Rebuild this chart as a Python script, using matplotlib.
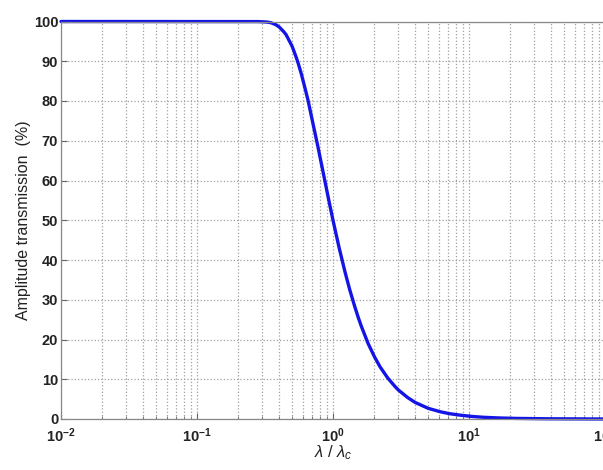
import numpy as np
import matplotlib
matplotlib.use('Agg')
import matplotlib.pyplot as plt
from matplotlib.ticker import LogLocator, NullFormatter, MultipleLocator

# values
ratio = [0.01, 0.1, 0.28, 0.32, 0.35, 0.38, 0.4, 0.43, 0.45, 0.48, 0.5, 0.53,
         0.55, 0.58, 0.6, 0.65, 0.7, 0.75, 0.8, 0.85, 0.9, 0.95, 1.0, 1.05,
         1.1, 1.2, 1.3, 1.4, 1.5, 1.6, 1.8, 2.0, 2.2, 2.5, 2.8, 3.0, 3.5, 4.0,
         4.5, 5.0, 6.0, 7.0, 8.0, 10.0, 12.0, 15.0, 20.0, 30.0, 50.0, 100.0]
transmission = [100, 100, 99.98, 99.9, 99.7, 99.2, 98.7, 97.6, 96.8, 95.0,
                93.8, 91.5, 89.9, 87.3, 85.4, 80.7, 75.6, 70.8, 66.2, 61.7,
                57.5, 53.6, 50.0, 46.7, 43.6, 38.2, 33.6, 29.8, 26.5, 23.7,
                19.2, 15.9, 13.3, 10.5, 8.5, 7.4, 5.5, 4.2, 3.4, 2.7, 1.9, 1.4,
                1.1, 0.7, 0.48, 0.31, 0.17, 0.08, 0.03, 0.0]

plt.rcParams['font.family'] = ['Liberation Sans', 'DejaVu Sans']
plt.rcParams['mathtext.fontset'] = 'custom'
plt.rcParams['mathtext.rm'] = 'Liberation Sans'
plt.rcParams['mathtext.it'] = 'Liberation Sans:italic'
plt.rcParams['axes.unicode_minus'] = False

fig = plt.figure(figsize=(6.03, 4.70), dpi=100)
ax = fig.add_axes([61 / 603, 51 / 470, 544 / 603, 397.5 / 470])

# draw through the read points in log space
lx = np.log10(ratio)
xs = np.linspace(lx[0], lx[-1], 1200)
ys = np.interp(xs, lx, transmission)
ax.plot(10 ** xs, ys, color='#1414e6', lw=2.4, solid_capstyle='round', clip_on=False)

ax.set_xscale('log')
ax.set_xlim(1e-2, 1e2)
ax.set_ylim(0, 100)
ax.yaxis.set_major_locator(MultipleLocator(10))
ax.xaxis.set_major_locator(LogLocator(base=10, numticks=10))
ax.xaxis.set_minor_locator(LogLocator(base=10, subs=np.arange(2, 10), numticks=20))
ax.xaxis.set_minor_formatter(NullFormatter())

ax.grid(True, which='major', axis='both', color='#a0a0a0', ls=':', lw=0.9)
ax.grid(True, which='minor', axis='x', color='#a0a0a0', ls=':', lw=0.9)

ax.tick_params(which='both', direction='in', colors='#666666', labelcolor='#222222',
               labelsize=10.5)
ax.tick_params(which='major', length=4)
ax.tick_params(which='minor', length=2)
ax.tick_params(axis='x', pad=5)
ax.tick_params(axis='y', pad=2)
fig.canvas.draw()
for lab in ax.get_yticklabels() + ax.get_xticklabels():
    lab.set_fontweight('bold')
for s in ax.spines.values():
    s.set_color('#888888')
    s.set_linewidth(0.9)

ax.set_ylabel('Amplitude transmission  (%)', fontsize=11.5, color='#222222', labelpad=2)
ax.set_xlabel(r'$\lambda$ / $\lambda_c$', fontsize=12, color='#222222', labelpad=-1)

fig.savefig('out.png', dpi=100)
